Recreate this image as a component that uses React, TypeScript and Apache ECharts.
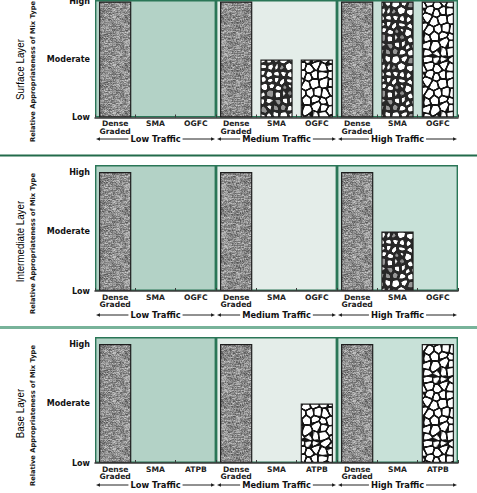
import React, { useEffect, useRef } from 'react';
import * as echarts from 'echarts';

// ---------- data ----------
const mixTypes = ['Dense Graded', 'SMA', 'OGFC'];
const baseMixTypes = ['Dense Graded', 'SMA', 'ATPB'];
const trafficLevels = ['Low Traffic', 'Medium Traffic', 'High Traffic'];
const layerNames = ['Surface Layer', 'Intermediate Layer', 'Base Layer'];
const yAxisTitle = 'Relative Appropriateness of Mix Type';
const yTickLabels = ['Low', 'Moderate', 'High'];
// 0 = Low, 1 = Moderate, 2 = High, null = not shown
const surfaceValues = [2, null, null, 2, 1, 1, 2, 2, 2];
const intermediateValues = [2, null, null, 2, null, null, 2, 1, null];
const baseValues = [2, null, null, 2, null, 1, 2, null, 2];

// ---------- layout / style ----------
const FONT = '"Liberation Sans", Arial, Helvetica, sans-serif';
const WIDE = '"DejaVu Sans", Verdana, sans-serif';
const gridLayout = [
  { top: 0, bottom: 375.5, max: 2.026, trafficGap: 21.5 },
  { top: 165, bottom: 202, max: 2.118, trafficGap: 24 },
  { top: 337, bottom: 30, max: 2.118, trafficGap: 22 },
];
const bgColors = ['#b3d2c6', '#e4ede9', '#c8e1d8'];

function hash(n: number) {
  const x = Math.sin(n * 12.9898 + 78.233) * 43758.5453;
  return x - Math.floor(x);
}
function makeCanvas(w: number, h: number) {
  const c = document.createElement('canvas');
  c.width = w;
  c.height = h;
  return c;
}
function denseTexture() {
  const w = 48, h = 48;
  const c = makeCanvas(w, h);
  const ctx = c.getContext('2d')!;
  const img = ctx.createImageData(w, h);
  for (let y = 0; y < h; y++) {
    for (let x = 0; x < w; x++) {
      const a = hash(x * 7.13 + y * 131.7);
      const b = hash(Math.floor(x / 4) * 3.7 + y * 57.1 + 5);
      const v = Math.max(60, Math.min(215, 142 + (a - 0.5) * 70 + (b - 0.5) * 55));
      const o = (y * w + x) * 4;
      img.data[o] = v; img.data[o + 1] = v; img.data[o + 2] = v; img.data[o + 3] = 255;
    }
  }
  ctx.putImageData(img, 0, 0);
  return c;
}
// Voronoi-like aggregate texture (tileable)
function stoneTexture(n: number, cell: number, border: number, ink: number, seed: number, grayShare: number) {
  const size = n * cell;
  const pts: { x: number; y: number; fill: number }[] = [];
  for (let i = 0; i < n; i++) {
    for (let j = 0; j < n; j++) {
      const s = seed + i * 17 + j * 131;
      pts.push({
        x: (i + 0.15 + hash(s) * 0.7) * cell,
        y: (j + 0.15 + hash(s + 1) * 0.7) * cell,
        fill: hash(s + 2) < grayShare ? 150 : 255,
      });
    }
  }
  const c = makeCanvas(size, size);
  const ctx = c.getContext('2d')!;
  const img = ctx.createImageData(size, size);
  for (let y = 0; y < size; y++) {
    for (let x = 0; x < size; x++) {
      let d1 = 1e9, d2 = 1e9, idx = 0;
      for (let k = 0; k < pts.length; k++) {
        let dx = Math.abs(x + 0.5 - pts[k].x);
        let dy = Math.abs(y + 0.5 - pts[k].y);
        if (dx > size / 2) dx = size - dx;
        if (dy > size / 2) dy = size - dy;
        const d = Math.sqrt(dx * dx + dy * dy);
        if (d < d1) { d2 = d1; d1 = d; idx = k; } else if (d < d2) { d2 = d; }
      }
      const edge = d2 - d1;
      const t = Math.max(0, Math.min(1, (edge - border) / 1.2));
      const fill = pts[idx].fill;
      const v = ink + (fill - ink) * t;
      const o = (y * size + x) * 4;
      img.data[o] = v; img.data[o + 1] = v; img.data[o + 2] = v; img.data[o + 3] = 255;
    }
  }
  ctx.putImageData(img, 0, 0);
  return c;
}

export default function App() {
  const ref = useRef<HTMLDivElement>(null);
  useEffect(() => {
    if (!ref.current) return;
    const chart = echarts.init(ref.current, null, { renderer: 'svg' });
    const texCanvases = [
      denseTexture(),
      stoneTexture(8, 7, 2.0, 40, 11, 0.15),
      stoneTexture(8, 8, 1.1, 20, 911, 0.0),
    ];
    const patterns = texCanvases.map((c) => ({
      image: c,
      repeat: 'repeat',
      imageWidth: c.width,
      imageHeight: c.height,
    }));

    const panels = [
      { cats: mixTypes, values: surfaceValues },
      { cats: mixTypes, values: intermediateValues },
      { cats: baseMixTypes, values: baseValues },
    ];

    const grids: any[] = [];
    const xAxes: any[] = [];
    const yAxes: any[] = [];
    const series: any[] = [];

    panels.forEach((p, g) => {
      const L = gridLayout[g];
      grids.push({ left: 95, right: 19, top: L.top, bottom: L.bottom, outerBoundsMode: 'none', containLabel: false });
      const cats9: string[] = [];
      trafficLevels.forEach((t) => p.cats.forEach((c) => cats9.push(t + '|' + c)));
      xAxes.push({
        type: 'category',
        gridIndex: g,
        data: cats9,
        z: 10,
        axisLine: { lineStyle: { color: '#3a3a3a', width: 1.5 } },
        axisTick: { show: true, inside: true, length: 3, interval: 0, lineStyle: { color: '#3a3a3a', width: 1 } },
        axisLabel: {
          interval: 0,
          margin: 2.5,
          fontSize: 7.6,
          fontWeight: 'bold',
          color: '#222',
          lineHeight: 7.6,
          fontFamily: WIDE,
          formatter: (v: string) => v.split('|')[1].replace(' ', '\n'),
        },
      });
      xAxes.push({
        type: 'category',
        gridIndex: g,
        position: 'bottom',
        data: trafficLevels,
        axisLine: { show: false },
        axisTick: { show: false },
        axisLabel: {
          interval: 0,
          margin: L.trafficGap - 4.5,
          fontSize: 8.3,
          lineHeight: 9,
          fontWeight: 'bold',
          color: '#111',
          fontFamily: WIDE,
        },
      });
      yAxes.push({
        type: 'value',
        gridIndex: g,
        min: 0,
        max: L.max,
        interval: 1,
        axisLine: { show: false },
        axisTick: { show: false },
        splitLine: { show: false },
        axisLabel: {
          margin: 5,
          fontSize: 8,
          fontWeight: 'bold',
          color: '#111',
          fontFamily: WIDE,
          formatter: (v: number) => (Number.isInteger(v) && v >= 0 && v <= 2 ? yTickLabels[v] : ''),
        },
      });
      series.push({
        type: 'bar',
        xAxisIndex: 2 * g + 1,
        yAxisIndex: g,
        barWidth: '100%',
        silent: true,
        z: 1,
        itemStyle: { borderColor: '#2a7657', borderWidth: 1.4 },
        data: trafficLevels.map((t, k) => ({ value: L.max, itemStyle: { color: bgColors[k] } })),
      });
      series.push({
        type: 'bar',
        xAxisIndex: 2 * g,
        yAxisIndex: g,
        barWidth: '80%',
        z: 3,
        itemStyle: { borderColor: '#1e1e1e', borderWidth: 1.2 },
        data: p.values.map((v, i) =>
          v == null ? '-' : { value: v, itemStyle: { color: patterns[i % 3] } }
        ),
      });
    });

    chart.setOption({
      animation: false,
      backgroundColor: '#ffffff',
      textStyle: { fontFamily: FONT },
      grid: grids,
      xAxis: xAxes,
      yAxis: yAxes,
      series,
    });

    // decorations: panel separators, y titles, traffic arrows
    const graphics: any[] = [
      { type: 'line', shape: { x1: 0, y1: 155.5, x2: 477, y2: 155.5 }, style: { stroke: '#226b4b', lineWidth: 1.8 }, z: 20 },
      { type: 'line', shape: { x1: 0, y1: 327.5, x2: 477, y2: 327.5 }, style: { stroke: '#78b39a', lineWidth: 3 }, z: 20 },
    ];
    const mctx = makeCanvas(10, 10).getContext('2d')!;
    mctx.font = 'bold 8.3px ' + WIDE;
    gridLayout.forEach((L, g) => {
      const c0 = chart.convertToPixel({ xAxisIndex: 2 * g + 1 } as any, trafficLevels[0]) as number;
      const c1 = chart.convertToPixel({ xAxisIndex: 2 * g + 1 } as any, trafficLevels[1]) as number;
      const band = c1 - c0;
      const yLow = chart.convertToPixel({ yAxisIndex: g } as any, 0) as number;
      const yHigh = chart.convertToPixel({ yAxisIndex: g } as any, 2) as number;
      const yc = (yLow + yHigh) / 2 + 10;
      graphics.push({
        type: 'text', x: 20, y: yc, rotation: Math.PI / 2, scaleX: 0.85, z: 20,
        style: { text: layerNames[g], fontSize: 11.5, fontFamily: FONT, fill: '#000', align: 'center', verticalAlign: 'middle' },
      });
      graphics.push({
        type: 'text', x: 33, y: yc + 2, rotation: Math.PI / 2, z: 20,
        style: { text: yAxisTitle, fontSize: 6.7, fontWeight: 'bold', fontFamily: WIDE, fill: '#1a1a1a', align: 'center', verticalAlign: 'middle' },
      });
      const y = yLow + L.trafficGap;
      trafficLevels.forEach((t, k) => {
        const cx = c0 + band * k;
        const left = cx - band / 2;
        const right = cx + band / 2;
        const tw = mctx.measureText(t).width;
        const st = { stroke: '#222', lineWidth: 1 };
        graphics.push({ type: 'line', shape: { x1: left + 3, y1: y, x2: cx - tw / 2 - 2, y2: y }, style: st, z: 20 });
        graphics.push({ type: 'line', shape: { x1: cx + tw / 2 + 2, y1: y, x2: right - 3, y2: y }, style: st, z: 20 });
        graphics.push({ type: 'polygon', shape: { points: [[left + 1, y], [left + 5, y - 1.8], [left + 5, y + 1.8]] }, style: { fill: '#222' }, z: 20 });
        graphics.push({ type: 'polygon', shape: { points: [[right - 1, y], [right - 5, y - 1.8], [right - 5, y + 1.8]] }, style: { fill: '#222' }, z: 20 });
      });
    });
    chart.setOption({ graphic: graphics });

    return () => chart.dispose();
  }, []);
  return (
    <div
      ref={ref}
      style={{ position: 'fixed', left: 0, top: 0, width: 477, height: 493, background: '#fff' }}
    />
  );
}
